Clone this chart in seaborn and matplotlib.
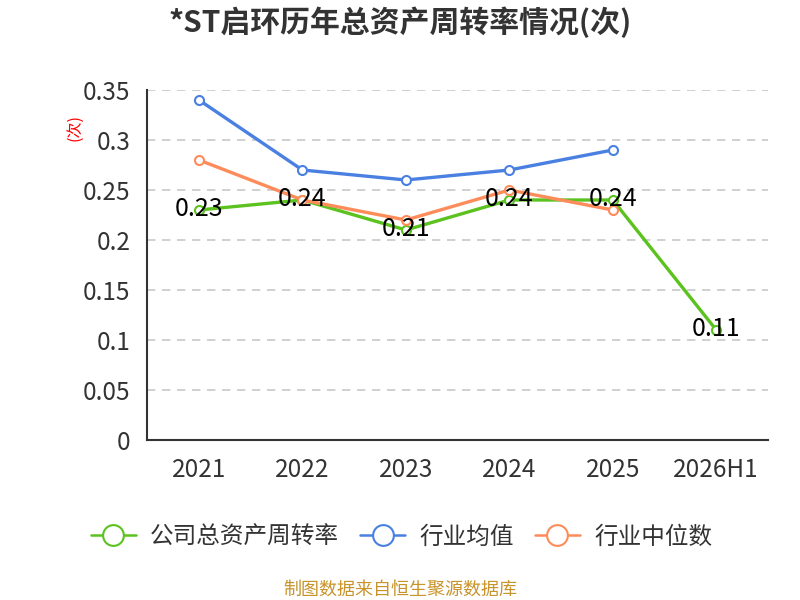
import matplotlib
matplotlib.use('Agg')
import matplotlib.pyplot as plt
import seaborn as sns

# Data
years = ["2021", "2022", "2023", "2024", "2025", "2026H1"]
company = [0.23, 0.24, 0.21, 0.24, 0.24, 0.11]
industry_mean = [0.34, 0.27, 0.26, 0.27, 0.29]
industry_median = [0.28, 0.24, 0.22, 0.25, 0.23]
yticks = [0, 0.05, 0.1, 0.15, 0.2, 0.25, 0.3, 0.35]
ytick_labels = ["0", "0.05", "0.1", "0.15", "0.2", "0.25", "0.3", "0.35"]

sns.set_theme(style="white")
plt.rcParams['font.family'] = ['Noto Sans CJK SC', 'DejaVu Sans']

fig = plt.figure(figsize=(8, 6), dpi=100)
ax = fig.add_axes([0.184, 0.2667, 0.776, 0.5833])

green, blue, orange = '#5bc21f', '#4a80e2', '#fe8c5a'
series = [
    ("公司总资产周转率", years, company, green),
    ("行业均值", years[:5], industry_mean, blue),
    ("行业中位数", years[:5], industry_median, orange),
]
for name, xs, ys, col in series:
    sns.lineplot(x=xs, y=ys, ax=ax, color=col, linewidth=2.4, marker='o',
                 markersize=6.5, markerfacecolor='white', markeredgecolor=col,
                 markeredgewidth=1.5, label=name)

for i, v in enumerate(company):
    ax.text(i, v + 0.001, f"{v:.2f}", ha='center', va='center',
            fontsize=18, color='black', zorder=10)

ax.set_xlim(-0.5, 5.5)
ax.set_ylim(0, 0.35)
ax.set_yticks(yticks)
ax.set_yticklabels(ytick_labels)
ax.set_xticks(range(len(years)))
ax.set_xticklabels(years)
ax.set_xticks([i - 0.5 for i in range(len(years) + 1)], minor=True)
ax.tick_params(axis='x', which='major', length=0, pad=12, labelsize=17.5, labelcolor='#333333')
ax.tick_params(axis='x', which='minor', length=6, width=1.5, color='#333333', direction='out')
ax.tick_params(axis='y', length=6, width=1.5, color='#333333', direction='out',
               pad=6, labelsize=17.5, labelcolor='#333333')
ax.set_xlabel("")
ax.set_ylabel("")

for y in yticks[1:]:
    ax.axhline(y, color='#c8c8c8', linestyle=(0, (5, 4)), linewidth=1.2, zorder=0)

for s in ['top', 'right']:
    ax.spines[s].set_visible(False)
for s in ['left', 'bottom']:
    ax.spines[s].set_color('#333333')
    ax.spines[s].set_linewidth(1.5)

handles, labels = ax.get_legend_handles_labels()
ax.get_legend().remove()
leg = fig.legend(handles, labels, loc='center', bbox_to_anchor=(0.502, 0.105), ncol=3,
                 frameon=False, fontsize=17, markerscale=2.3, handlelength=1.9,
                 handletextpad=0.6, columnspacing=0.9, labelcolor='#333333')
for h in leg.legend_handles:
    h.set_linewidth(1.8)

fig.text(0.5, 0.963, "*ST启环历年总资产周转率情况(次)", ha='center', va='center',
         fontsize=21.5, fontweight='bold', color='#333333')
fig.text(0.094, 0.787, "(次)", ha='center', va='center', rotation=90,
         fontsize=11.5, color='red')
fig.text(0.5, 0.017, "制图数据来自恒生聚源数据库", ha='center', va='center',
         fontsize=13, color='#c8932a')

fig.savefig('out.png', dpi=100)
